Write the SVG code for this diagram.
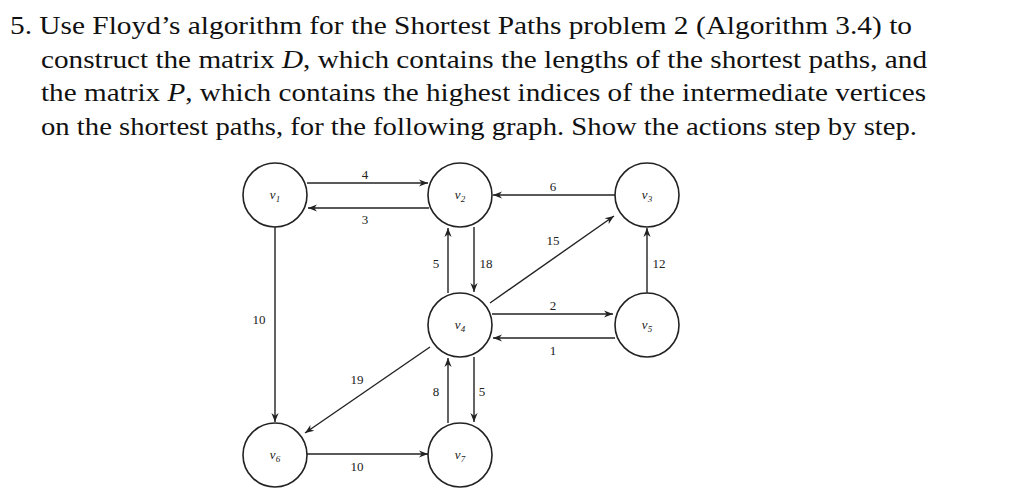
<svg xmlns="http://www.w3.org/2000/svg" width="1012" height="501" viewBox="0 0 1012 501">
<style>
.t{font-family:"Liberation Serif",serif;font-size:26px;fill:#111}
.n circle{fill:#fff;stroke:#222;stroke-width:1.6}
.n text{font-family:"Liberation Serif",serif;font-style:italic;font-size:13px;text-anchor:middle;fill:#222}
.e line{stroke:#222;stroke-width:1.4;marker-end:url(#a)}
.l{font-family:"Liberation Serif",serif;font-size:13px;fill:#222;text-anchor:middle}
</style>
<defs><marker id="a" viewBox="0 0 10 10" refX="10" refY="5" markerWidth="9" markerHeight="9" markerUnits="userSpaceOnUse" orient="auto"><path d="M0,1 L10,5 L0,9 L3,5 z" fill="#222"/></marker></defs>
<rect width="1012" height="501" fill="#fff"/>
<text class="t" x="10" y="34" textLength="902" lengthAdjust="spacingAndGlyphs">5. Use Floyd’s algorithm for the Shortest Paths problem 2 (Algorithm 3.4) to</text>
<text class="t" x="41" y="68" textLength="886" lengthAdjust="spacingAndGlyphs">construct the matrix <tspan font-style="italic">D</tspan>, which contains the lengths of the shortest paths, and</text>
<text class="t" x="41" y="101" textLength="885" lengthAdjust="spacingAndGlyphs">the matrix <tspan font-style="italic">P</tspan>, which contains the highest indices of the intermediate vertices</text>
<text class="t" x="41" y="135" textLength="876" lengthAdjust="spacingAndGlyphs">on the shortest paths, for the following graph. Show the actions step by step.</text>
<g class="e" id="edges">
<line x1="307" y1="183" x2="428" y2="183"/>
<line x1="429" y1="208" x2="308" y2="208"/>
<line x1="615" y1="195" x2="493" y2="195"/>
<line x1="275" y1="227" x2="275" y2="422"/>
<line x1="448" y1="293" x2="448" y2="228"/>
<line x1="474" y1="227" x2="474" y2="292"/>
<line x1="490" y1="303" x2="614" y2="216"/>
<line x1="647" y1="293" x2="647" y2="228"/>
<line x1="492" y1="314" x2="613" y2="314"/>
<line x1="615" y1="338" x2="493" y2="338"/>
<line x1="430" y1="347" x2="305" y2="433"/>
<line x1="448" y1="423" x2="448" y2="358"/>
<line x1="474" y1="357" x2="474" y2="422"/>
<line x1="307" y1="454" x2="428" y2="454"/>
</g>
<g class="l">
<text x="365" y="179">4</text><text x="365" y="224">3</text><text x="553" y="191">6</text>
<text x="553" y="245">15</text><text x="436" y="268">5</text><text x="486" y="268">18</text>
<text x="659" y="268">12</text><text x="553" y="310">2</text><text x="553" y="355">1</text>
<text x="259" y="324">10</text><text x="357" y="384">19</text><text x="436" y="396">8</text>
<text x="482" y="396">5</text><text x="357" y="471">10</text>
</g>
<g class="n" id="v1"><circle cx="275" cy="195" r="32"/><text x="275" y="199">v<tspan font-size="9" dy="3">1</tspan></text></g>
<g class="n" id="v2"><circle cx="460" cy="195" r="32"/><text x="460" y="199">v<tspan font-size="9" dy="3">2</tspan></text></g>
<g class="n" id="v3"><circle cx="647" cy="195" r="32"/><text x="647" y="199">v<tspan font-size="9" dy="3">3</tspan></text></g>
<g class="n" id="v4"><circle cx="460" cy="325" r="32"/><text x="460" y="329">v<tspan font-size="9" dy="3">4</tspan></text></g>
<g class="n" id="v5"><circle cx="647" cy="325" r="32"/><text x="647" y="329">v<tspan font-size="9" dy="3">5</tspan></text></g>
<g class="n" id="v6"><circle cx="275" cy="455" r="32"/><text x="275" y="459">v<tspan font-size="9" dy="3">6</tspan></text></g>
<g class="n" id="v7"><circle cx="460" cy="455" r="32"/><text x="460" y="459">v<tspan font-size="9" dy="3">7</tspan></text></g>
</svg>
